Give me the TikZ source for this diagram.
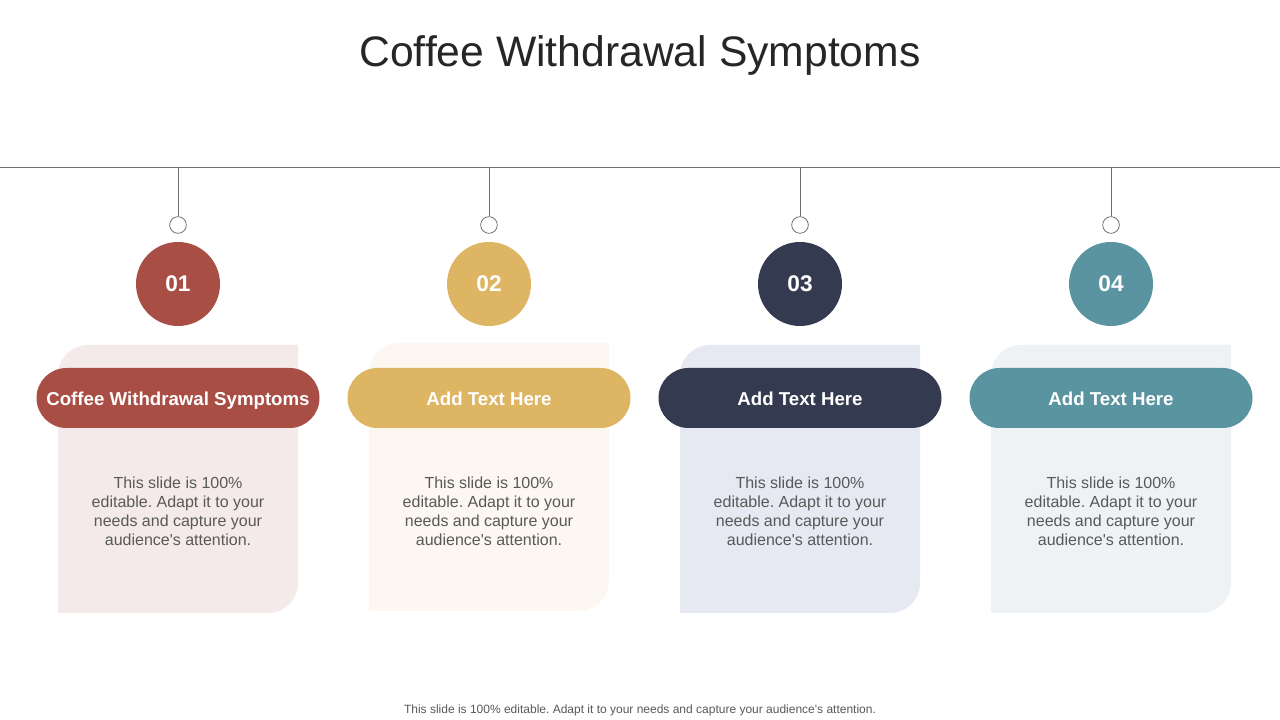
\documentclass[tikz,border=0pt]{standalone}
\usepackage{fontspec}
\setmainfont{Liberation Sans}
\frenchspacing
\definecolor{cred}{HTML}{A94E45}
\definecolor{cgold}{HTML}{DDB563}
\definecolor{cnavy}{HTML}{343A4F}
\definecolor{cteal}{HTML}{5B94A1}
\definecolor{fred}{HTML}{F5EAEA}
\definecolor{fgold}{HTML}{FCF7F0}
\definecolor{fnavy}{HTML}{E6E9F1}
\definecolor{fteal}{HTML}{EEF2F5}
\definecolor{bodytxt}{HTML}{595959}
\definecolor{titletxt}{HTML}{262626}
\definecolor{linegray}{HTML}{6E6E6E}
\tikzset{
  numcirc/.style={circle, fill=#1, minimum size=63pt, inner sep=0pt, text=white, font=\bfseries\fontsize{17}{18}\selectfont},
  smallcirc/.style={circle, draw=linegray, line width=0.6pt, fill=white, minimum size=12.5pt, inner sep=0pt},
  pill/.style={fill=#1, rounded corners=22.5pt, minimum width=212.25pt, minimum height=45pt, inner sep=0pt, text=white, font=\bfseries\fontsize{14}{16}\selectfont},
  bodytext/.style={text=bodytxt, align=center, font=\fontsize{12}{14.25}\selectfont},
  hang/.style={draw=linegray, line width=0.6pt},
}
\begin{document}
\begin{tikzpicture}[x=0.75pt,y=0.75pt]
\fill[white] (0,0) rectangle (1280,720);
\useasboundingbox (0,0) rectangle (1280,720);
\node[text=titletxt, font=\fontsize{32}{38}\selectfont] (title) at (640,665) {Coffee Withdrawal Symptoms};
\draw[hang] (0,553) coordinate (lineL) -- (1280,553) coordinate (lineR);
\foreach \cx/\c/\f/\n/\lab/\dy in {178/cred/fred/01/Coffee Withdrawal Symptoms/0, 489/cgold/fgold/02/Add Text Here/2, 800/cnavy/fnavy/03/Add Text Here/0, 1111/cteal/fteal/04/Add Text Here/0}{
  % card
  \fill[\f] (\cx-120,107+\dy) -- (\cx-120,345+\dy) arc[start angle=180,end angle=90,radius=22.5pt] -- (\cx+120,375+\dy) -- (\cx+120,137+\dy) arc[start angle=0,end angle=-90,radius=22.5pt] -- cycle;
  \coordinate (top\n) at (\cx,553);
  \node[smallcirc] (sc\n) at (\cx,495) {};
  \draw[hang] (top\n) -- (sc\n.north);
  \node[numcirc=\c] (num\n) at (\cx,436) {\n};
  \node[pill=\c, text depth=0pt] (pill\n) at (\cx,322) {\raisebox{-1.5pt}{\lab}};
  \node[bodytext] (body\n) at (\cx,208.5) {This slide is 100\%\\editable. Adapt it to your\\needs and capture your\\audience\textquotesingle s attention.};
}
\node[text=bodytxt, font=\fontsize{9}{11}\selectfont] (footer) at (640,9.5) {This slide is 100\% editable. Adapt it to your needs and capture your audience\textquotesingle s attention.};
\end{tikzpicture}
\end{document}
